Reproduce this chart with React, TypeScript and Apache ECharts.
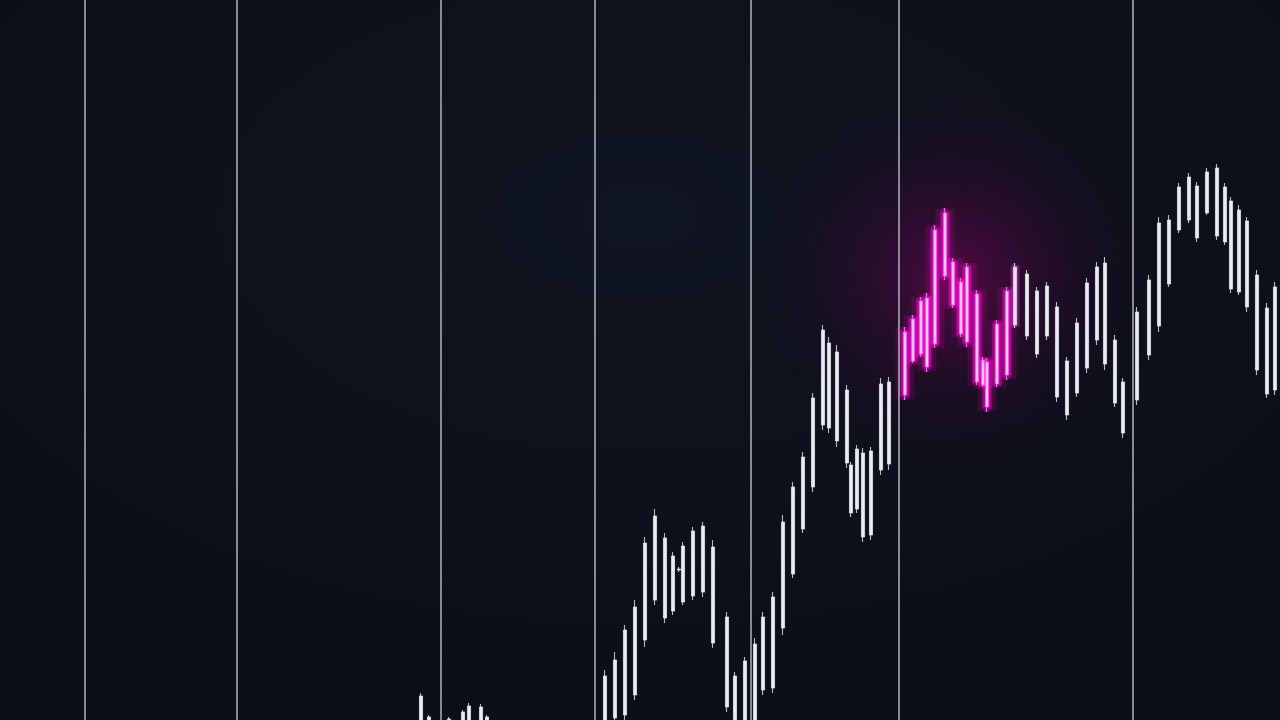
import React, { useEffect, useRef } from "react";
import * as echarts from "echarts";

// time slots (category index, 640 slots across the view)
const SLOT_COUNT = 640;
const slots = [
  210, 214, 224, 231, 234, 240, 243,
  302, 307, 312, 317, 322, 327, 332, 336, 339, 341, 346, 351, 356, 363, 367, 372, 377, 381, 386, 391, 396,
  401, 406, 411, 414, 418, 423, 425, 428, 431, 435, 440, 444,
  452, 456, 460, 463, 467, 472, 476, 480, 483, 488, 491, 493, 498, 503,
  507, 513, 518, 523, 528, 533, 538, 543, 548, 552, 557, 561,
  568, 574, 579, 584, 589, 594, 598, 603, 608, 612, 615, 619, 623, 628, 633, 637,
];
const opens = [
  24, 3, 1, 8, 14, 13, 3,
  44, 60, 90, 113, 177, 204, 182, 164, 151, 174, 189, 194, 173, 103, 44, 59, 76, 103, 123, 198, 233,
  263, 322, 390, 377, 368, 330, 255, 271, 267, 269, 336, 338,
  388, 401, 419, 422, 490, 507, 458, 438, 453, 426, 360, 358, 396, 429,
  453, 446, 429, 434, 413, 359, 397, 437, 453, 457, 380, 338,
  408, 440, 497, 500, 533, 543, 534, 548, 552, 533, 519, 510, 499, 445, 412, 433,
];
const closes = [
  -3, -5, -5, -5, -4, -5, -5,
  -2, 2, 5, 25, 80, 120, 102, 109, 150, 118, 124, 128, 77, 13, -5, -5, -5, 30, 32, 92, 146,
  191, 233, 295, 292, 279, 257, 207, 211, 183, 185, 250, 256,
  325, 359, 366, 353, 376, 444, 415, 386, 378, 338, 335, 313, 336, 345,
  395, 384, 366, 384, 323, 305, 327, 352, 380, 356, 317, 287,
  320, 365, 394, 436, 490, 500, 482, 507, 484, 478, 431, 428, 413, 350, 326, 330,
];
const lows = [
  -5, -5, -5, -5, -5, -5, -5,
  -5, -5, 0, 20, 73, 115, 97, 105, 148, 115, 120, 123, 72, 8, -5, -5, -5, 25, 27, 85, 142,
  187, 228, 290, 287, 273, 252, 203, 207, 178, 180, 245, 250,
  320, 357, 363, 348, 372, 440, 412, 383, 373, 335, 333, 308, 333, 340,
  392, 380, 362, 380, 318, 300, 323, 347, 375, 350, 313, 282,
  315, 360, 388, 433, 487, 497, 478, 505, 480, 475, 427, 425, 408, 345, 322, 325,
];
const highs = [
  27, 5, 3, 10, 17, 16, 5,
  50, 68, 95, 120, 183, 211, 187, 168, 153, 178, 193, 198, 180, 108, 48, 63, 82, 108, 128, 205, 238,
  268, 327, 395, 383, 375, 335, 258, 275, 272, 273, 342, 343,
  393, 405, 423, 427, 495, 512, 462, 442, 457, 430, 363, 362, 400, 433,
  457, 450, 433, 438, 418, 363, 402, 442, 458, 463, 385, 342,
  413, 445, 503, 505, 537, 547, 538, 552, 556, 537, 523, 515, 503, 450, 417, 438,
];
// 0 = white, 1 = magenta highlight, 2 = fading pink
const tone = [
  0, 0, 0, 0, 0, 0, 0,
  0, 0, 0, 0, 0, 0, 0, 0, 0, 0, 0, 0, 0, 0, 0, 0, 0, 0, 0, 0, 0,
  0, 0, 0, 0, 0, 0, 0, 0, 0, 0, 0, 0,
  1, 1, 1, 1, 1, 1, 1, 1, 1, 1, 1, 1, 1, 1,
  2, 0, 0, 0, 0, 0, 0, 0, 0, 0, 0, 0,
  0, 0, 0, 0, 0, 0, 0, 0, 0, 0, 0, 0, 0, 0, 0, 0,
];
// vertical marker lines (slot index)
const markerSlots = [42, 118, 220, 297, 375, 449, 566];

function buildSeriesData(t: number) {
  const arr: any[] = new Array(SLOT_COUNT).fill("-");
  slots.forEach((s, i) => {
    if (tone[i] === t) arr[s] = [opens[i], closes[i], lows[i], highs[i]];
  });
  return arr;
}

function candle(name: string, t: number, barWidth: number, color: string, border: string, bw: number, z: number) {
  return {
    type: "candlestick",
    name,
    data: buildSeriesData(t),
    large: false,
    progressive: 0,
    barWidth,
    clip: true,
    z,
    silent: true,
    itemStyle: {
      color,
      color0: color,
      borderColor: border,
      borderColor0: border,
      borderWidth: bw,
    },
  };
}

export default function App() {
  const ref = useRef<HTMLDivElement>(null);
  useEffect(() => {
    if (!ref.current) return;
    const chart = echarts.init(ref.current, null, { renderer: "svg" });
    const categories = Array.from({ length: SLOT_COUNT }, (_, i) => String(i));
    const series: any[] = [
      // glow halos
      candle("glowWhite", 0, 4, "rgba(190,205,235,0.08)", "rgba(190,205,235,0.07)", 2.5, 3),
      candle("glowMagentaOuter", 1, 12, "rgba(255,0,200,0.15)", "rgba(255,0,200,0.14)", 8, 3),
      candle("glowMagenta", 1, 5, "rgba(255,20,220,0.45)", "rgba(255,20,220,0.38)", 4, 4),
      candle("glowPink", 2, 5, "rgba(240,120,230,0.3)", "rgba(240,120,230,0.22)", 4, 4),
      // cores
      candle("white", 0, 2.8, "#e9ecf2", "#dde1e8", 0.8, 6),
      candle("magenta", 1, 2.6, "#ffc8fb", "#ff55ec", 1, 6),
      candle("pink", 2, 2.6, "#f8dcf6", "#ecb4ee", 1, 6),
      {
        type: "line",
        name: "markers",
        data: [],
        silent: true,
        z: 2,
        markLine: {
          silent: true,
          symbol: ["none", "none"],
          animation: false,
          label: { show: false },
          lineStyle: { color: "#aeb3bd", width: 1.5, type: "solid", opacity: 1 },
          emphasis: { disabled: true },
          data: markerSlots.map((s) => ({ xAxis: s })),
        },
      },
    ];
    chart.setOption({
      animation: false,
      backgroundColor: "#0c101a",
      grid: { left: 0, right: 0, top: 0, bottom: 0 },
      xAxis: {
        type: "category",
        data: categories,
        boundaryGap: true,
        axisLine: { show: false },
        axisTick: { show: false },
        axisLabel: { show: false },
        splitLine: { show: false },
      },
      yAxis: {
        type: "value",
        min: 0,
        max: 720,
        axisLine: { show: false },
        axisTick: { show: false },
        axisLabel: { show: false },
        splitLine: { show: false },
      },
      graphic: [
        {
          type: "rect",
          z: 0,
          silent: true,
          shape: { x: 0, y: 0, width: 1280, height: 720 },
          style: {
            fill: new echarts.graphic.RadialGradient(0.5, 0.3, 0.7, [
              { offset: 0, color: "rgba(20,28,42,0.45)" },
              { offset: 1, color: "rgba(8,10,16,0.25)" },
            ]),
          },
        },
        {
          type: "circle",
          z: 1,
          silent: true,
          shape: { cx: 955, cy: 280, r: 200 },
          style: {
            fill: new echarts.graphic.RadialGradient(0.5, 0.5, 0.5, [
              { offset: 0, color: "rgba(150,0,110,0.5)" },
              { offset: 0.5, color: "rgba(90,0,70,0.24)" },
              { offset: 1, color: "rgba(40,0,40,0)" },
            ]),
          },
        },
      ],
      series,
    });
    return () => chart.dispose();
  }, []);
  return (
    <div
      ref={ref}
      style={{ position: "fixed", left: 0, top: 0, width: 1280, height: 720 }}
    />
  );
}
